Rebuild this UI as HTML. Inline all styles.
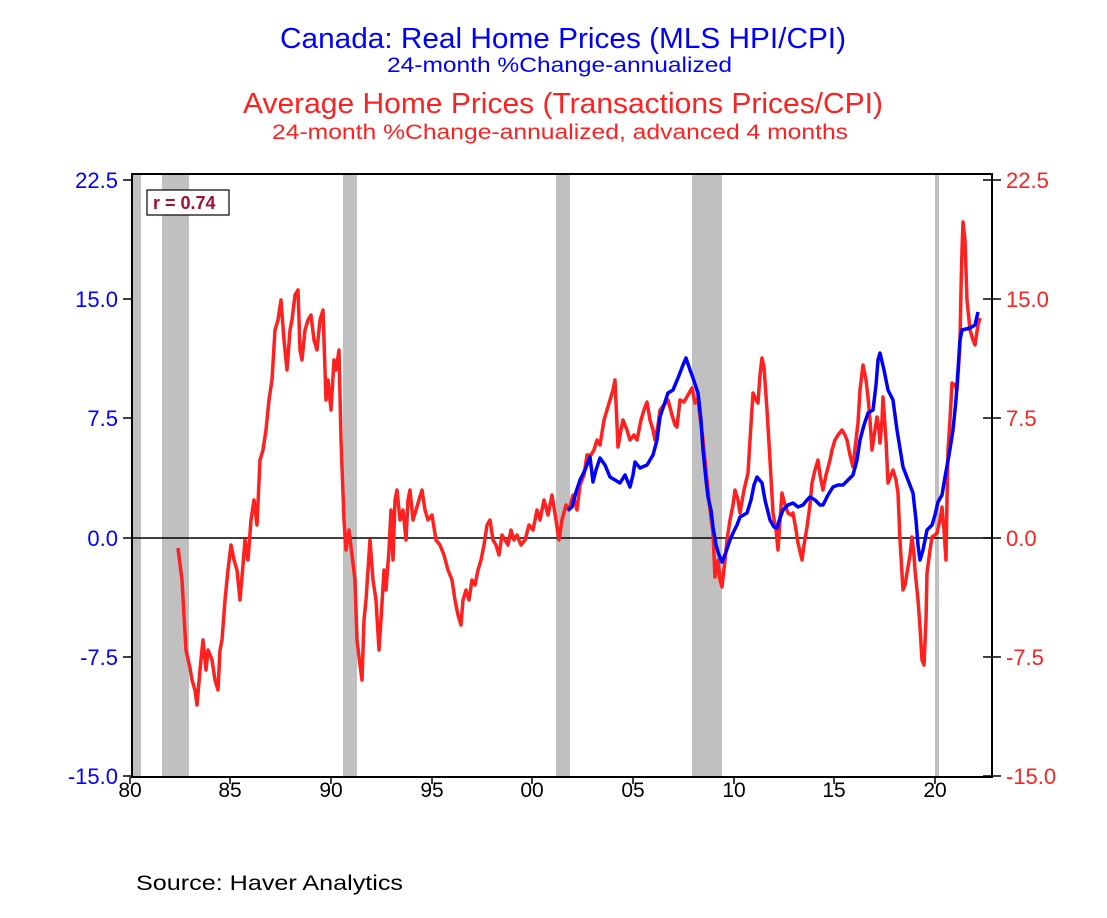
<!DOCTYPE html>
<html><head><meta charset="utf-8"><style>
body{margin:0;background:#fff;}
svg{display:block;font-family:"Liberation Sans",Arial,sans-serif;}
</style></head><body>
<svg width="1107" height="918" viewBox="0 0 1107 918">
<text x="280" y="48" font-size="29" fill="#0000ff" textLength="566" lengthAdjust="spacingAndGlyphs">Canada: Real Home Prices (MLS HPI/CPI)</text>
<text x="387" y="72" font-size="21" fill="#0000ff" textLength="345" lengthAdjust="spacingAndGlyphs">24-month %Change-annualized</text>
<text x="243" y="113" font-size="29" fill="#ff2020" textLength="640" lengthAdjust="spacingAndGlyphs">Average Home Prices (Transactions Prices/CPI)</text>
<text x="272" y="139" font-size="21" fill="#ff2020" textLength="576" lengthAdjust="spacingAndGlyphs">24-month %Change-annualized, advanced 4 months</text>
<g fill="#c0c0c0">
<rect x="132" y="174" width="9" height="603"/>
<rect x="162" y="174" width="27" height="603"/>
<rect x="343" y="174" width="14" height="603"/>
<rect x="556" y="174" width="14" height="603"/>
<rect x="692" y="174" width="30" height="603"/>
<rect x="935" y="174" width="4" height="603"/>
</g>
<line x1="132" y1="538" x2="992" y2="538" stroke="#000" stroke-width="1.5"/>
<polyline fill="none" stroke="#ff2020" stroke-width="3.5" stroke-linejoin="round" points="178,548 182,580 186,650 190,668 192,680 195,690 197,705 200,670 203,640 206,670 208,650 212,660 215,680 218,690 220,650 222,640 225,600 228,570 231,545 234,560 237,570 240,600 243,565 245,540 248,560 251,520 254,500 257,525 260,460 263,450 266,430 269,400 272,380 275,330 278,320 281,300 284,340 287,370 290,330 292,320 295,295 298,290 300,350 302,360 305,330 308,320 311,315 314,340 317,350 320,320 323,310 326,400 328,380 331,410 334,360 336,370 339,350 341,440 344,520 346,550 349,530 352,555 355,580 357,640 360,665 362,680 364,620 366,600 368,570 370,540 373,580 376,600 379,650 381,620 384,570 386,590 389,550 391,510 393,560 395,500 397,490 400,520 403,510 406,540 408,500 410,490 413,520 416,510 419,500 422,490 425,510 428,520 432,515 436,540 440,545 444,555 448,570 452,580 455,600 458,615 461,625 463,600 466,590 469,600 472,580 475,585 478,570 481,560 484,545 487,525 490,520 493,540 496,545 499,555 502,535 505,540 508,545 511,530 514,540 517,535 521,545 525,540 529,525 533,530 537,510 540,520 544,500 548,515 552,495 556,520 559,540 562,520 566,505 569,510 573,495 577,510 580,485 584,475 587,455 591,455 594,450 597,440 600,445 604,420 607,410 610,400 613,390 615,380 618,447 621,430 623,420 627,430 630,440 634,435 637,440 641,420 644,410 647,402 650,420 653,430 655,440 658,425 660,410 664,405 668,400 672,415 675,425 677,427 680,400 684,402 688,395 692,388 695,403 698,398 700,417 703,440 705,460 707,480 710,510 713,533 715,577 718,560 720,580 722,587 725,560 727,540 730,520 733,505 735,490 738,500 740,513 744,490 748,473 750,440 753,393 756,400 758,403 760,375 762,358 764,367 767,410 770,460 773,513 776,530 778,550 780,520 782,493 785,505 788,513 791,515 793,513 796,530 798,543 802,560 804,545 807,527 810,505 812,483 815,470 818,460 820,475 823,490 826,475 830,460 832,450 835,440 838,435 842,430 845,435 847,440 850,455 853,467 856,440 858,423 860,390 863,365 866,380 868,397 870,420 872,450 875,430 877,417 879,430 880,443 882,420 883,397 886,440 888,483 891,475 893,470 896,480 898,493 900,540 903,590 905,585 907,573 910,555 912,537 914,555 915,570 918,600 920,627 922,660 924,665 926,620 927,573 930,550 932,537 935,535 937,533 940,520 942,507 944,530 946,560 947,500 948,450 950,420 952,383 955,385 957,390 959,360 960,340 961,290 962,250 963,222 965,240 967,300 970,330 973,340 975,345 978,325 980,318"/>
<polyline fill="none" stroke="#0000ff" stroke-width="3.5" stroke-linejoin="round" points="568,510 572,507 576,492 580,480 585,470 590,457 593,482 596,470 600,458 605,465 610,477 615,480 620,483 625,475 630,487 633,475 635,462 640,468 647,465 653,455 657,440 660,417 664,405 668,393 673,390 678,378 683,365 686,358 690,370 693,378 698,393 701,420 703,450 706,480 708,497 711,510 713,527 716,545 719,555 722,562 726,552 730,540 733,533 737,525 740,517 747,513 751,500 754,485 757,477 762,483 765,500 770,520 774,527 777,528 780,518 783,510 788,505 793,503 798,507 803,505 807,500 810,497 815,500 820,505 823,505 828,495 833,487 838,485 843,485 848,480 853,475 857,460 860,440 864,425 868,413 873,410 876,385 878,360 880,353 884,370 888,390 893,400 897,430 903,467 908,480 913,493 916,520 918,545 920,560 923,550 927,530 932,525 935,515 938,502 942,495 945,477 949,455 953,430 956,400 958,370 960,340 962,330 966,329 970,328 975,325 978,312"/>
<rect x="132" y="174" width="860" height="603" fill="none" stroke="#000" stroke-width="2"/>
<rect x="147" y="190" width="82" height="25" fill="#fff" stroke="#000" stroke-width="1.2"/>
<text x="153" y="209" font-size="18" font-weight="bold" fill="#a01030">r = 0.74</text>
<g stroke="#000" stroke-width="1.5">
<line x1="123" y1="180" x2="132" y2="180"/><line x1="123" y1="299" x2="132" y2="299"/><line x1="123" y1="418" x2="132" y2="418"/><line x1="123" y1="538" x2="132" y2="538"/><line x1="123" y1="657" x2="132" y2="657"/><line x1="123" y1="776" x2="132" y2="776"/>
<line x1="983" y1="180" x2="1001" y2="180"/><line x1="983" y1="299" x2="1001" y2="299"/><line x1="983" y1="418" x2="1001" y2="418"/><line x1="983" y1="538" x2="1001" y2="538"/><line x1="983" y1="657" x2="1001" y2="657"/><line x1="983" y1="776" x2="1001" y2="776"/>
<line x1="130" y1="777" x2="130" y2="784"/><line x1="230" y1="777" x2="230" y2="784"/><line x1="331" y1="777" x2="331" y2="784"/><line x1="432" y1="777" x2="432" y2="784"/><line x1="532" y1="777" x2="532" y2="784"/><line x1="633" y1="777" x2="633" y2="784"/><line x1="734" y1="777" x2="734" y2="784"/><line x1="834" y1="777" x2="834" y2="784"/><line x1="935" y1="777" x2="935" y2="784"/>
</g>
<g font-size="22" fill="#0000ff" text-anchor="end">
<text x="118" y="188">22.5</text><text x="118" y="307">15.0</text><text x="118" y="426">7.5</text><text x="118" y="546">0.0</text><text x="118" y="665">-7.5</text><text x="118" y="784">-15.0</text>
</g>
<g font-size="22" fill="#ff2020">
<text x="1006" y="188">22.5</text><text x="1006" y="307">15.0</text><text x="1006" y="426">7.5</text><text x="1006" y="546">0.0</text><text x="1006" y="665">-7.5</text><text x="1006" y="784">-15.0</text>
</g>
<g font-size="21" fill="#000" text-anchor="middle">
<text x="130" y="797">80</text><text x="230" y="797">85</text><text x="331" y="797">90</text><text x="432" y="797">95</text><text x="532" y="797">00</text><text x="633" y="797">05</text><text x="734" y="797">10</text><text x="834" y="797">15</text><text x="935" y="797">20</text>
</g>
<text x="136" y="890" font-size="21" fill="#000" textLength="267" lengthAdjust="spacingAndGlyphs">Source:  Haver Analytics</text>
</svg>
</body></html>
